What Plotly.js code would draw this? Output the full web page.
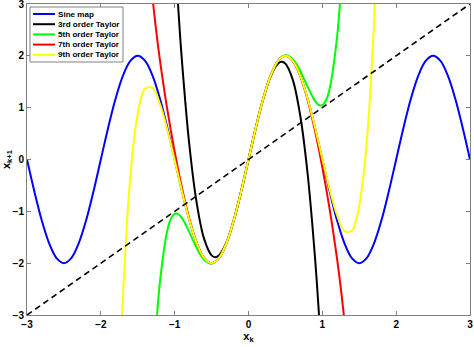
<!DOCTYPE html>
<html>
<head>
<meta charset="utf-8">
<script src="https://cdn.plot.ly/plotly-3.0.1.min.js"></script>
<style>
html,body{margin:0;padding:0;background:#fff;}
#chart{width:474px;height:347px;}
</style>
</head>
<body>
<div id="chart"></div>
<script>
// ---- data ----
var seriesNames = ["Sine map", "3rd order Taylor", "5th order Taylor", "7th order Taylor", "9th order Taylor"];

var sineX = [-3,-2.9,-2.8,-2.7,-2.6,-2.5,-2.4,-2.3,-2.2,-2.1,
             -2,-1.9,-1.8,-1.7,-1.6,-1.5,-1.4,-1.3,-1.2,-1.1,
             -1,-0.9,-0.8,-0.7,-0.6,-0.5,-0.4,-0.3,-0.2,-0.1,
             0,0.1,0.2,0.3,0.4,0.5,0.6,0.7,0.8,0.9,
             1,1.1,1.2,1.3,1.4,1.5,1.6,1.7,1.8,1.9,
             2,2.1,2.2,2.3,2.4,2.5,2.6,2.7,2.8,2.9,3];
var sineY = [0,-0.618,-1.176,-1.618,-1.902,-2,-1.902,-1.618,-1.176,-0.618,
             0,0.618,1.176,1.618,1.902,2,1.902,1.618,1.176,0.618,
             0,-0.618,-1.176,-1.618,-1.902,-2,-1.902,-1.618,-1.176,-0.618,
             0,0.618,1.176,1.618,1.902,2,1.902,1.618,1.176,0.618,
             0,-0.618,-1.176,-1.618,-1.902,-2,-1.902,-1.618,-1.176,-0.618,
             0,0.618,1.176,1.618,1.902,2,1.902,1.618,1.176,0.618,0];

var t3X = [-1,-0.95,-0.9,-0.8,-0.7,-0.6,-0.5,-0.45,-0.4,-0.3,-0.2,-0.1,0,
           0.1,0.2,0.3,0.4,0.45,0.5,0.6,0.7,0.8,0.9,0.95,1];
var t3Y = [4.052,2.892,1.880,0.265,-0.853,-1.537,-1.850,-1.886,-1.852,-1.606,-1.174,-0.618,0,
           0.618,1.174,1.606,1.852,1.886,1.850,1.537,0.853,-0.265,-1.880,-2.892,-4.052];

var t5X = [-1.3,-1.25,-1.2,-1.1,-1.05,-1,-0.95,-0.9,-0.8,-0.7,-0.6,-0.5,-0.4,-0.3,-0.2,-0.1,0,
           0.1,0.2,0.3,0.4,0.5,0.6,0.7,0.8,0.9,0.95,1,1.05,1.1,1.2,1.25,1.3];
var t5Y = [-4.398,-3.233,-2.371,-1.369,-1.142,-1.048,-1.054,-1.132,-1.406,-1.710,-1.934,-2.009,-1.904,-1.618,-1.176,-0.618,0,
           0.618,1.176,1.618,1.904,2.009,1.934,1.710,1.406,1.132,1.054,1.048,1.142,1.369,2.371,3.233,4.398];

var t7X = [-1.3,-1.25,-1.2,-1.1,-1,-0.9,-0.8,-0.7,-0.6,-0.5,-0.4,-0.3,-0.2,-0.1,0,
           0.1,0.2,0.3,0.4,0.5,0.6,0.7,0.8,0.9,1,1.1,1.2,1.25,1.3];
var t7Y = [3.122,2.482,1.923,0.966,0.150,-0.559,-1.155,-1.612,-1.901,-2.000,-1.902,-1.618,-1.176,-0.618,0,
           0.618,1.176,1.618,1.902,2.000,1.901,1.612,1.155,0.559,-0.150,-0.966,-1.923,-2.482,-3.122];

var t9X = [-1.75,-1.7,-1.65,-1.6,-1.55,-1.5,-1.45,-1.4,-1.3,-1.2,-1.1,-1,-0.9,-0.8,-0.7,-0.6,-0.5,-0.4,-0.3,-0.2,-0.1,0,
           0.1,0.2,0.3,0.4,0.5,0.6,0.7,0.8,0.9,1,1.1,1.2,1.3,1.4,1.45,1.5,1.55,1.6,1.65,1.7,1.75];
var t9Y = [-4.36,-2.623,-1.302,-0.317,0.395,0.889,1.203,1.373,1.380,1.075,0.579,-0.014,-0.622,-1.177,-1.618,-1.902,-2.000,-1.902,-1.618,-1.176,-0.618,0,
           0.618,1.176,1.618,1.902,2.000,1.902,1.618,1.177,0.622,0.014,-0.579,-1.075,-1.380,-1.373,-1.203,-0.889,-0.395,0.317,1.302,2.623,4.36];

var diagX = [-3, 3];
var diagY = [-3, 3];

var tickVals = [-3,-2,-1,0,1,2,3];

// ---- styling ----
var colors = ["#0000ff", "#000000", "#00ff00", "#ff0000", "#ffff00"];
var FONT = "Liberation Sans, Arial, sans-serif";

function curve(x, y, i) {
  return {x: x, y: y, type: "scatter", mode: "lines", name: seriesNames[i],
          line: {color: colors[i], width: 2, shape: "spline", smoothing: 1},
          showlegend: false, hoverinfo: "skip"};
}

var traces = [
  curve(sineX, sineY, 0),
  curve(t3X, t3Y, 1),
  curve(t5X, t5Y, 2),
  curve(t7X, t7Y, 3),
  curve(t9X, t9Y, 4),
  {x: diagX, y: diagY, type: "scatter", mode: "lines", showlegend: false,
   line: {color: "#000", width: 1.6, dash: "6px,4px"}, hoverinfo: "skip"}
];

// manual legend (compact, like the reference)
var plotW = 443, plotH = 311, plotL = 27, plotT = 4;
function px(p) { return (p - plotL) / plotW; }
function py(p) { return 1 - (p - plotT) / plotH; }
var shapes = [{type: "rect", xref: "paper", yref: "paper",
  x0: px(30), x1: px(123), y0: py(62), y1: py(7),
  fillcolor: "#fff", line: {color: "#808080", width: 1}}];
var annotations = [];
for (var i = 0; i < seriesNames.length; i++) {
  var yy = py(14 + i * 10.2);
  shapes.push({type: "line", xref: "paper", yref: "paper",
    x0: px(33), x1: px(55), y0: yy, y1: yy, line: {color: colors[i], width: 2}});
  annotations.push({xref: "paper", yref: "paper", x: px(56), y: yy,
    xanchor: "left", yanchor: "middle", showarrow: false, text: seriesNames[i],
    font: {family: FONT, size: 8.1, color: "#000", weight: "bold"}});
}

var axisCommon = {
  range: [-3, 3], tickvals: tickVals, ticks: "inside", ticklen: 4, tickwidth: 1,
  tickcolor: "#808080", showline: true, linecolor: "#808080", linewidth: 1,
  mirror: "ticks", showgrid: false, zeroline: false, fixedrange: true,
  ticklabeloverflow: "allow",
  tickfont: {family: FONT, size: 10, color: "#000", weight: "bold"}
};

var layout = {
  width: 474, height: 347,
  margin: {l: 27, r: 4, t: 4, b: 32},
  paper_bgcolor: "#fff", plot_bgcolor: "#fff",
  showlegend: false,
  xaxis: Object.assign({}, axisCommon, {
    title: {text: "x<sub>k</sub>", font: {family: FONT, size: 11, color: "#000", weight: "bold"}, standoff: 2}
  }),
  yaxis: Object.assign({}, axisCommon, {
    title: {text: "x<sub>k+1</sub>", font: {family: FONT, size: 11, color: "#000", weight: "bold"}, standoff: 4}
  }),
  shapes: shapes,
  annotations: annotations
};

Plotly.newPlot("chart", traces, layout, {displayModeBar: false, staticPlot: true});
</script>
</body>
</html>
